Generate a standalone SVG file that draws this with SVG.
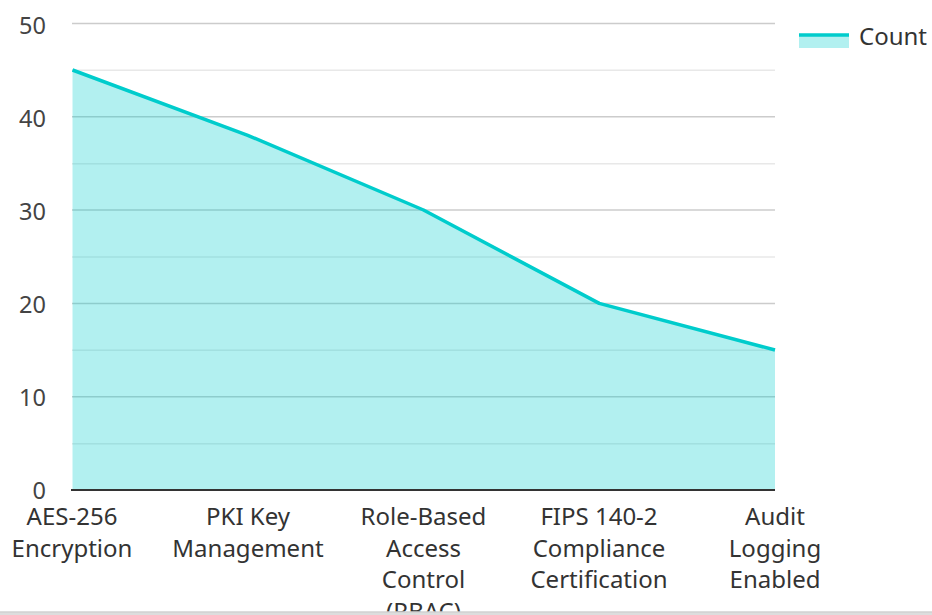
<svg xmlns="http://www.w3.org/2000/svg" width="932" height="615" viewBox="0 0 932 615">
<style>
.grid{stroke:#cccccc;stroke-width:1.5}
.minor{stroke:#e8e8e8;stroke-width:1.5}
.ylab{font-family:"Noto Sans","Open Sans",sans-serif;font-size:23.5px;fill:#444444;text-anchor:end}
.xlab{font-family:"Noto Sans","Open Sans",sans-serif;font-size:24px;fill:#333333;text-anchor:middle}
.leg{font-family:"Noto Sans","Open Sans",sans-serif;font-size:24px;fill:#333333}
</style>
<rect width="932" height="615" fill="#ffffff"/>
<g id="gridlines">
<line class="minor" x1="72" y1="70.3" x2="775" y2="70.3"/>
<line class="minor" x1="72" y1="163.7" x2="775" y2="163.7"/>
<line class="minor" x1="72" y1="257" x2="775" y2="257"/>
<line class="minor" x1="72" y1="350.3" x2="775" y2="350.3"/>
<line class="minor" x1="72" y1="443.7" x2="775" y2="443.7"/>
<line class="grid" x1="72" y1="23.5" x2="775" y2="23.5"/>
<line class="grid" x1="72" y1="116.8" x2="775" y2="116.8"/>
<line class="grid" x1="72" y1="210.1" x2="775" y2="210.1"/>
<line class="grid" x1="72" y1="303.4" x2="775" y2="303.4"/>
<line class="grid" x1="72" y1="396.7" x2="775" y2="396.7"/>
</g>
<g id="y-axis">
<text class="ylab" x="46" y="33.5">50</text>
<text class="ylab" x="46" y="126.5">40</text>
<text class="ylab" x="46" y="219.5">30</text>
<text class="ylab" x="46" y="313">20</text>
<text class="ylab" x="46" y="406">10</text>
<text class="ylab" x="46" y="499">0</text>
</g>
<g id="series-count">
<path d="M72.5,70 L247.75,135.3 L423.5,210 L599.25,303.4 L775,350 L775,490 L72.5,490 Z" fill="#00cccc" fill-opacity="0.3"/>
<path d="M72.5,70 L247.75,135.3 L423.5,210 L599.25,303.4 L775,350" fill="none" stroke="#00cccc" stroke-width="3.5" stroke-linejoin="round"/>
</g>
<g id="x-axis">
<line x1="71" y1="490" x2="775" y2="490" stroke="#333333" stroke-width="2"/>
<text class="xlab" x="72" y="525">AES-256</text>
<text class="xlab" x="72" y="556.5">Encryption</text>
<text class="xlab" x="248" y="525">PKI Key</text>
<text class="xlab" x="248" y="556.5">Management</text>
<text class="xlab" x="423.5" y="525">Role-Based</text>
<text class="xlab" x="423.5" y="556.5">Access</text>
<text class="xlab" x="423.5" y="588">Control</text>
<text class="xlab" x="423.5" y="619.5">(RBAC)</text>
<text class="xlab" x="599" y="525">FIPS 140-2</text>
<text class="xlab" x="599" y="556.5">Compliance</text>
<text class="xlab" x="599" y="588">Certification</text>
<text class="xlab" x="775" y="525">Audit</text>
<text class="xlab" x="775" y="556.5">Logging</text>
<text class="xlab" x="775" y="588">Enabled</text>
</g>
<g id="legend">
<rect x="799" y="34" width="50" height="14" fill="#00cccc" fill-opacity="0.3"/>
<line x1="799" y1="35" x2="849" y2="35" stroke="#00cccc" stroke-width="3.5"/>
<text class="leg" x="859" y="44.5">Count</text>
</g>
<rect x="0" y="611.5" width="932" height="3.5" fill="#dddddd"/>
<line x1="0" y1="612" x2="932" y2="612" stroke="#cccccc" stroke-width="1"/>
</svg>
